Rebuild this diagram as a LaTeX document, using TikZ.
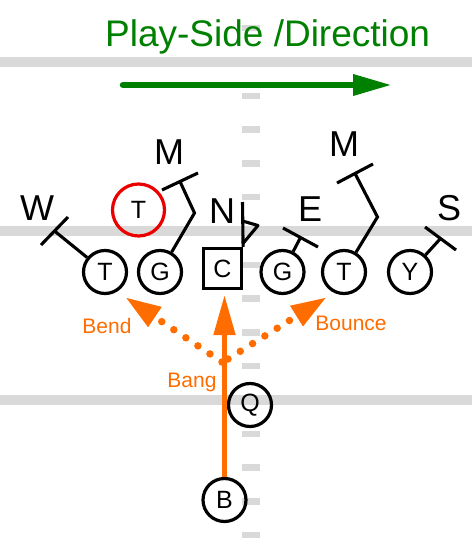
\documentclass[tikz,border=0pt]{standalone}
\usepackage{fontspec}
\setmainfont{Liberation Sans}
\usetikzlibrary{arrows.meta}
\definecolor{fieldgray}{RGB}{217,217,217}
\definecolor{playgreen}{RGB}{0,128,0}
\definecolor{runorange}{RGB}{255,108,0}
\definecolor{keyred}{RGB}{235,0,0}
\begin{document}
\begin{tikzpicture}[x=1pt,y=-1pt,
  player/.style={circle,draw=black,line width=3.2pt,minimum size=43pt,inner sep=0pt,font=\fontsize{25}{25}\selectfont},
  keyplayer/.style={player,draw=keyred,minimum size=52pt},
  snapbox/.style={rectangle,draw=black,line width=3.2pt,minimum width=38pt,minimum height=40pt,inner sep=0pt,font=\fontsize{25}{25}\selectfont},
  lbline/.style={line width=3.1pt,line join=miter},
  lblabel/.style={font=\fontsize{36}{36}\selectfont,inner sep=0pt,anchor=base},
  runlabel/.style={font=\fontsize{21}{21}\selectfont,text=runorange,inner sep=0pt,anchor=base},
  yardline/.style={fill=fieldgray},
  hashmark/.style={fill=fieldgray},
  solidrun/.style={draw=runorange,line width=5pt,-{Triangle[length=40pt,width=21pt]}},
  dotrun/.style={draw=runorange,line width=7.5pt,line cap=round,dash pattern=on 0pt off 14.5pt,-{Triangle[length=36pt,width=22pt]}},
  dirarrow/.style={draw=playgreen,line width=6.5pt,line cap=round,-{Triangle[length=39pt,width=20pt]}}
]
\useasboundingbox (0,0) rectangle (472,545);
% field
\foreach \yy in {62,231,400} {\fill[yardline] (0,\yy-5) rectangle (472,\yy+5);}
\foreach \yy in {-3,28.2,95.8,129.6,163.4,197.2,264.8,298.6,332.4,366.2,433.8,467.6,501.4,535.2}
  {\fill[hashmark] (242,\yy-3.2) rectangle (260,\yy+3.2);}
% title and direction
\node[font=\fontsize{37}{37}\selectfont,text=playgreen,inner sep=0pt,anchor=base west] (title) at (105,47) {Play-Side /Direction};
\coordinate (dirstart) at (123,85);
\coordinate (dirend) at (392,85);
\draw[dirarrow] (dirstart) -- (dirend);
% offense
\node[player] (TL) at (105,272) {T};
\node[player] (GL) at (160,272) {G};
\node[snapbox] (C) at (222.5,268.5) {C};
\node[player] (GR) at (282.5,272) {G};
\node[player] (TR) at (344,272) {T};
\node[player] (Y) at (410,272) {Y};
\node[player] (Q) at (250,405) {Q};
\node[player] (B) at (224.5,500) {B};
\node[keyplayer] (DT) at (138.5,210) {T};
% defense labels
\node[lblabel] (Wl) at (37,220) {W};
\node[lblabel] (Ml) at (169,165) {M};
\node[lblabel] (Nl) at (222,223) {N};
\node[lblabel] (El) at (310,222) {E};
\node[lblabel] (Mr) at (344,157) {M};
\node[lblabel] (Sl) at (449,220) {S};
% W
\coordinate (wa) at (41,245); \coordinate (wb) at (68,217); \coordinate (wm) at (54.5,231);
\draw[lbline] (wa) -- (wb);
\draw[lbline] (wm) -- (TL);
% M left
\coordinate (mla) at (162,190); \coordinate (mlb) at (198,173); \coordinate (mlm) at (180,181.5); \coordinate (mlk) at (194.5,213);
\draw[lbline] (mla) -- (mlb);
\draw[lbline] (mlm) -- (mlk) -- (GL);
% N
\coordinate (ntop) at (242.5,202);
\coordinate (nfa) at (242.5,221); \coordinate (nfb) at (258,225.5); \coordinate (nfc) at (242.5,244);
\draw[lbline] (C.north east) -- (ntop);
\draw[lbline,line join=round] (nfa) -- (nfb) -- (nfc);
% E
\coordinate (ea) at (283,228); \coordinate (eb) at (318,247); \coordinate (em) at (300.5,237.5);
\draw[lbline] (ea) -- (eb);
\draw[lbline] (em) -- (GR);
% M right
\coordinate (mra) at (337,183); \coordinate (mrb) at (373,164); \coordinate (mrm) at (355,173.5); \coordinate (mrk) at (377.5,217);
\draw[lbline] (mra) -- (mrb);
\draw[lbline] (mrm) -- (mrk) -- (TR);
% S
\coordinate (sa) at (425,227); \coordinate (sb) at (456,250); \coordinate (sm) at (440.5,238.5);
\draw[lbline] (sa) -- (sb);
\draw[lbline] (sm) -- (Y);
% runs
\coordinate (fork) at (222,362);
\coordinate (forkr) at (228,359);
\coordinate (bendtip) at (125,297);
\coordinate (bouncetip) at (327,297);
\draw[dotrun] (fork) -- (bendtip);
\draw[dotrun] (forkr) -- (bouncetip);
\draw[solidrun,shorten >=5pt] (B) -- (B |- C.south);
\node[runlabel] (bend) at (107,333) {Bend};
\node[runlabel] (bounce) at (351,330) {Bounce};
\node[runlabel] (bang) at (192,387) {Bang};
\end{tikzpicture}
\end{document}
